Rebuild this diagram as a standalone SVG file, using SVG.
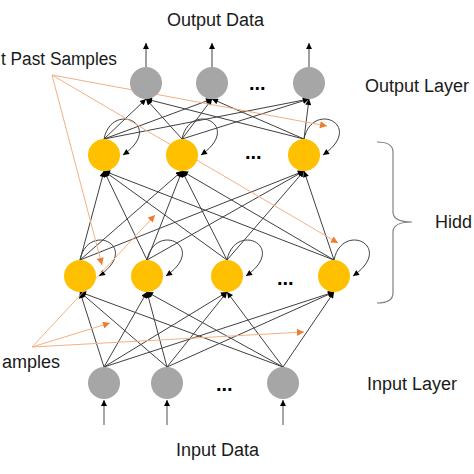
<svg xmlns="http://www.w3.org/2000/svg" width="474" height="474" viewBox="0 0 474 474">
<defs>
<marker id="ab" viewBox="0 0 10 10" refX="10" refY="5" markerWidth="7" markerHeight="6" markerUnits="userSpaceOnUse" orient="auto"><path d="M0,0 L10,5 L0,10 z" fill="#000"/></marker>
<marker id="ao" viewBox="0 0 10 10" refX="10" refY="5" markerWidth="8" markerHeight="7" markerUnits="userSpaceOnUse" orient="auto"><path d="M0,0 L10,5 L0,10 z" fill="#ED7D31"/></marker>
</defs>
<style>
.c{stroke:#404040;stroke-width:1;fill:none;marker-end:url(#ab)}
.io{stroke:#777;stroke-width:1.3;fill:none;marker-end:url(#ab)}
.o{stroke:#F4B183;stroke-width:1;fill:none;marker-end:url(#ao)}
.g{fill:#A6A6A6}
.y{fill:#FFC000}
.t{font-family:"Liberation Sans",Arial,sans-serif;font-size:18px;fill:#1a1a1a}
.d{font-family:"Liberation Sans",Arial,sans-serif;font-size:20px;font-weight:bold;fill:#000}
</style>
<rect width="474" height="474" fill="#fff"/>
<g id="connectors">
<path class="c" d="M104,367 L80,292"/><path class="c" d="M104,367 L147,292"/><path class="c" d="M104,367 L227,292"/><path class="c" d="M104,367 L334,292"/>
<path class="c" d="M167,367 L80,292"/><path class="c" d="M167,367 L147,292"/><path class="c" d="M167,367 L227,292"/><path class="c" d="M167,367 L334,292"/>
<path class="c" d="M283,367 L80,292"/><path class="c" d="M283,367 L147,292"/><path class="c" d="M283,367 L227,292"/><path class="c" d="M283,367 L334,292"/>
<path class="c" d="M80,260 L104,171"/><path class="c" d="M80,260 L182,171"/><path class="c" d="M80,260 L304,171"/>
<path class="c" d="M147,260 L104,171"/><path class="c" d="M147,260 L182,171"/><path class="c" d="M147,260 L304,171"/>
<path class="c" d="M227,260 L104,171"/><path class="c" d="M227,260 L182,171"/><path class="c" d="M227,260 L304,171"/>
<path class="c" d="M334,260 L104,171"/><path class="c" d="M334,260 L182,171"/><path class="c" d="M334,260 L304,171"/>
<path class="c" d="M104,139 L146,99"/><path class="c" d="M104,139 L212,99"/><path class="c" d="M104,139 L309,99"/>
<path class="c" d="M182,139 L146,99"/><path class="c" d="M182,139 L212,99"/><path class="c" d="M182,139 L309,99"/>
<path class="c" d="M304,139 L146,99"/><path class="c" d="M304,139 L212,99"/><path class="c" d="M304,139 L309,99"/>
<path class="c" d="M104,139 C112,100 166,125 123,155"/>
<path class="c" d="M182,139 C190,100 244,125 201,155"/>
<path class="c" d="M304,139 C312,100 366,125 323,155"/>
<path class="c" d="M80,260 C88,221 142,246 99,276"/>
<path class="c" d="M147,260 C155,221 209,246 166,276"/>
<path class="c" d="M227,260 C235,221 289,246 246,276"/>
<path class="c" d="M334,260 C342,221 396,246 353,276"/>
<path class="c" d="M146,67 L146,43"/><path class="c" d="M212,67 L212,43"/><path class="c" d="M309,67 L309,43"/>
<path class="io" d="M104,425 L104,400"/><path class="io" d="M167,425 L167,400"/><path class="io" d="M283,425 L283,400"/>
<path class="o" d="M52,75 L327,126"/>
<path class="o" d="M52,75 L338,243"/>
<path class="o" d="M52,75 L102,265"/>
<path class="o" d="M32,347 L155,215"/>
<path class="o" d="M32,347 L110,323"/>
<path class="o" d="M32,347 L304,332"/>
</g>
<g id="output-layer">
<circle class="g" cx="146" cy="83" r="16"/>
<circle class="g" cx="212" cy="83" r="16"/>
<circle class="g" cx="309" cy="83" r="16"/>
<text class="d" x="249" y="90">...</text>
</g>
<g id="hidden-layer-2">
<circle class="y" cx="104" cy="155" r="16"/>
<circle class="y" cx="182" cy="155" r="16"/>
<circle class="y" cx="304" cy="155" r="16"/>
<text class="d" x="245" y="159">...</text>
</g>
<g id="hidden-layer-1">
<circle class="y" cx="80" cy="276" r="16"/>
<circle class="y" cx="147" cy="276" r="16"/>
<circle class="y" cx="227" cy="276" r="16"/>
<circle class="y" cx="334" cy="276" r="16"/>
<text class="d" x="277" y="285">...</text>
</g>
<g id="input-layer">
<circle class="g" cx="104" cy="383" r="16"/>
<circle class="g" cx="167" cy="383" r="16"/>
<circle class="g" cx="283" cy="383" r="16"/>
<text class="d" x="216" y="391">...</text>
</g>
<g id="brace">
<path d="M377,142 Q393,142 393,152 L393,212 Q393,222 412,222 Q393,222 393,232 L393,293 Q393,303 377,303" fill="none" stroke="#808080" stroke-width="1.2"/>
</g>
<g id="labels">
<text class="t" x="167" y="26">Output Data</text>
<text class="t" x="365" y="92">Output Layer</text>
<text class="t" x="435" y="228">Hidd</text>
<text class="t" x="367" y="390">Input Layer</text>
<text class="t" x="176" y="456">Input Data</text>
<text class="t" x="1" y="65" textLength="116" lengthAdjust="spacingAndGlyphs">t Past Samples</text>
<text class="t" x="2" y="368">amples</text>
</g>
</svg>
